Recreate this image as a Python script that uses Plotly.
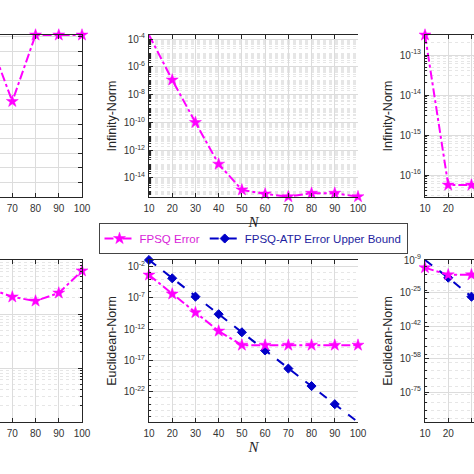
import plotly.graph_objects as go

# ---------------- data ----------------
N = [10, 20, 30, 40, 50, 60, 70, 80, 90, 100]

# top-left panel (partly visible): Infinity-Norm
N_tl = [60, 70, 80, 90, 100]
inf_tl = [4.33e-16, 2.62e-16, 4.44e-16, 4.44e-16, 4.44e-16]

# top-middle panel: Infinity-Norm
inf_tm = [2.0e-4, 1.15e-7, 1.0e-10, 1.0e-13, 1.4e-15, 7.1e-16, 4.5e-16, 8.0e-16, 8.0e-16, 4.5e-16]

# top-right panel (partly visible): Infinity-Norm
N_tr = [10, 20, 30, 40]
inf_tr = [3.16e-13, 5.6e-17, 5.6e-17, 5.6e-17]

# bottom-left panel (partly visible): Euclidean-Norm
N_bl = [60, 70, 80, 90, 100]
euc_bl = [3.0e-14, 2.07e-14, 1.74e-14, 2.45e-14, 6.3e-14]

# bottom-middle panel: Euclidean-Norm
euc_bm_err = [4.7e-4, 4.3e-7, 4.5e-10, 5.0e-13, 2.8e-15, 2.8e-15, 2.8e-15, 2.8e-15, 2.8e-15, 2.8e-15]
euc_bm_bnd = [0.117, 1.38e-4, 1.6e-7, 2.5e-10, 3.2e-13, 4.0e-16, 5.0e-19, 7.9e-22, 1.0e-24, 1.4e-27]

# bottom-right panel (partly visible): Euclidean-Norm
N_br = [10, 20, 30, 40]
euc_br_err = [1.4e-13, 4.0e-17, 4.0e-17, 4.0e-17]
euc_br_bnd = [1.0e-9, 1.4e-18, 4.5e-28, 1.6e-37]

x_ticks = [10, 20, 30, 40, 50, 60, 70, 80, 90, 100]
tm_exps = [-4, -6, -8, -10, -12, -14]
tr_exps = [-13, -14, -15, -16]
bm_exps = [-2, -7, -12, -17, -22]
br_exps = [-9, -25, -42, -58, -75]

# ---------------- style ----------------
MAG = "#FF00FF"
BLU = "#0000C8"
AX = "#262626"
GRID = "#DCDCDC"
MGRID = "#E6E6E6"
TICKFONT = dict(family="Liberation Sans, Arial", size=10, color="#333333")
TITLEFONT = dict(family="Liberation Sans, Arial", size=12.5, color=AX)
NFONT = dict(family="Liberation Serif, Times New Roman", size=15, color=AX)

W = 474.0
def px_x(a, b):
    return [a / W, b / W]
def px_y(top, bot):
    return [1 - bot / W, 1 - top / W]

top_dom = px_y(35, 197)
bot_dom = px_y(260, 422)
left_dom = px_x(0, 82)
mid_dom = px_x(149, 358)
right_dom = px_x(425, 474)

def sup(e):
    return "10<sup>%d</sup>" % e

def minor_log(lo, hi, sub=True, step=1):
    vals = []
    for k in range(lo, hi + 1):
        if sub:
            for m in range(2, 10):
                vals.append(m * 10.0 ** k)
            vals.append(10.0 ** k)
        elif k % step == 0:
            vals.append(10.0 ** k)
    return vals

fig = go.Figure()

def err_trace(x, y, xa, ya, legend=False):
    fig.add_trace(go.Scatter(
        x=x, y=y, xaxis=xa, yaxis=ya, mode="lines+markers",
        line=dict(color=MAG, width=2, dash="dashdot"),
        marker=dict(symbol="star", size=9, color=MAG, line=dict(color=MAG, width=0.5)),
        cliponaxis=False, showlegend=legend,
        name='<span style="color:#D81ED8">FPSQ Error</span>'))

def bnd_trace(x, y, xa, ya, legend=False):
    fig.add_trace(go.Scatter(
        x=x, y=y, xaxis=xa, yaxis=ya, mode="lines+markers",
        line=dict(color=BLU, width=2, dash="dash"),
        marker=dict(symbol="diamond", size=7, color=BLU, line=dict(color=BLU, width=1)),
        cliponaxis=False, showlegend=legend,
        name='<span style="color:#1E1EA0">FPSQ-ATP Error Upper Bound</span>'))

err_trace(N_tl, inf_tl, "x", "y")
err_trace(N, inf_tm, "x2", "y2", legend=True)
err_trace(N_tr, inf_tr, "x3", "y3")
err_trace(N_bl, euc_bl, "x4", "y4")
bnd_trace(N, euc_bm_bnd, "x5", "y5", legend=True)
err_trace(N, euc_bm_err, "x5", "y5")
bnd_trace(N_br, euc_br_bnd, "x6", "y6")
err_trace(N_br, euc_br_err, "x6", "y6")

def xaxis(dom, rng, anchor, title=False):
    d = dict(domain=dom, range=rng, anchor=anchor, tickvals=x_ticks,
             showgrid=True, gridcolor=GRID, gridwidth=1, zeroline=False,
             showline=True, linecolor=AX, linewidth=1, mirror="ticks",
             ticks="inside", ticklen=4, tickcolor=AX, tickfont=TICKFONT,
             ticklabelstandoff=2, automargin=False)
    if title:
        d["title"] = dict(text="<i>N</i>", font=NFONT, standoff=1)
    return d

def yaxis(dom, anchor, side, **kw):
    d = dict(domain=dom, anchor=anchor, side=side, showgrid=True, gridcolor=GRID,
             zeroline=False, showline=True, linecolor=AX, linewidth=1,
             mirror=False, ticks="inside", ticklen=4, tickcolor=AX,
             tickfont=TICKFONT, ticklabelstandoff=1, automargin=False)
    d.update(kw)
    return d

def minor_dict(vals):
    return dict(tickmode="array", tickvals=vals, showgrid=True, gridcolor=MGRID,
                griddash="dot", ticks="inside", ticklen=2, tickcolor=AX)

lay = dict(
    width=474, height=474, margin=dict(l=0, r=0, t=0, b=0),
    paper_bgcolor="white", plot_bgcolor="white",
    xaxis=xaxis(left_dom, [64.7, 100], "y"),
    xaxis2=xaxis(mid_dom, [10, 100], "y2", title=True),
    xaxis3=xaxis(right_dom, [10, 31.1], "y3"),
    xaxis4=xaxis(left_dom, [64.7, 100], "y4"),
    xaxis5=xaxis(mid_dom, [10, 100], "y5", title=True),
    xaxis6=xaxis(right_dom, [10, 31.1], "y6"),
    yaxis=yaxis(top_dom, "x", "right", range=[0, 4.44e-16], dtick=0.4e-16,
                showticklabels=False),
    yaxis2=yaxis(top_dom, "x2", "left", type="log", range=[-15.37, -3.70],
                 tickvals=[10.0 ** e for e in tm_exps], ticktext=[sup(e) for e in tm_exps],
                 minor=minor_dict(minor_log(-16, -4)),
                 title=dict(text="Infinity-Norm", font=TITLEFONT, standoff=4)),
    yaxis3=yaxis(top_dom, "x3", "left", type="log", range=[-16.55, -12.5],
                 tickvals=[10.0 ** e for e in tr_exps], ticktext=[sup(e) for e in tr_exps],
                 minor=minor_dict(minor_log(-17, -13)),
                 title=dict(text="Infinity-Norm", font=TITLEFONT, standoff=4)),
    yaxis4=yaxis(bot_dom, "x4", "right", type="log", range=[-16.0, -13.0],
                 tickvals=[1e-16, 1e-15, 1e-14, 1e-13], showticklabels=False,
                 minor=minor_dict(minor_log(-17, -13))),
    yaxis5=yaxis(bot_dom, "x5", "left", type="log", range=[-26.85, -0.93],
                 tickvals=[10.0 ** e for e in bm_exps], ticktext=[sup(e) for e in bm_exps],
                 minor=minor_dict(minor_log(-27, -1, sub=False)),
                 title=dict(text="Euclidean-Norm", font=TITLEFONT, standoff=4)),
    yaxis6=yaxis(bot_dom, "x6", "left", type="log", range=[-90, -9],
                 tickvals=[10.0 ** e for e in br_exps], ticktext=[sup(e) for e in br_exps],
                 minor=minor_dict(minor_log(-92, -9, sub=False, step=4)),
                 title=dict(text="Euclidean-Norm", font=TITLEFONT, standoff=4)),
    legend=dict(orientation="h", x=253 / W, y=1 - 238.5 / W, xanchor="center",
                yanchor="middle", bgcolor="white", bordercolor="#444444", borderwidth=1,
                font=dict(family="Liberation Sans, Arial", size=11.5), itemwidth=30,
                tracegroupgap=0),
)
fig.update_layout(**lay)
fig.write_html("out.html")
